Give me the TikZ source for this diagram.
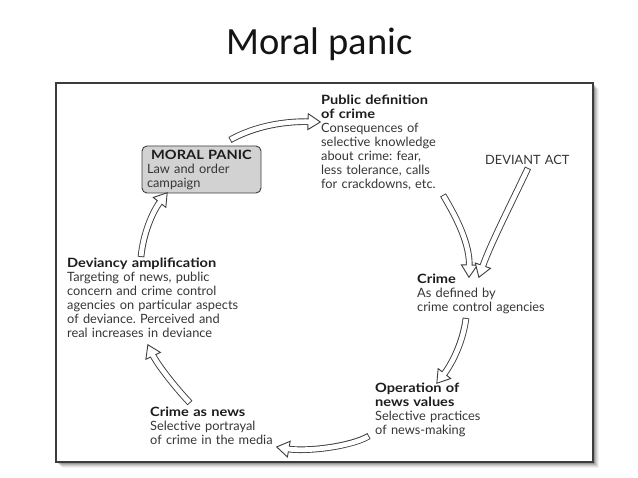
\documentclass[tikz,border=0pt]{standalone}
\usepackage{fontspec}
\setmainfont{Lato}
\newfontfamily\titlefont{Carlito}
\newfontfamily\hdfont{Lato}[FakeStretch=1.14]
\usetikzlibrary{decorations.markings}
\definecolor{txt}{HTML}{363636}
\definecolor{hdc}{HTML}{1C1C1C}
\definecolor{edge}{HTML}{3C3C3C}
\definecolor{boxfill}{HTML}{D2D2D2}
\frenchspacing
\newcommand{\hd}[1]{{\hdfont\bfseries\color{hdc}#1}}
\newcommand{\harrow}[1]{%
  \draw[shaftout] #1;
  \path[headmark] #1;
  \draw[shaftin] #1;}
\begin{document}
\begin{tikzpicture}[x=1pt,y=-1pt,
  lbl/.style={anchor=base west, align=left, text width=220pt, inner sep=0pt, text=txt,
    font=\fontsize{12.8}{14}\selectfont},
  moralbox/.style={rounded corners=5pt, draw=edge, line width=0.9pt, fill=boxfill,
    minimum width=119pt, minimum height=47pt, text width=109pt, inner xsep=5pt, inner ysep=3pt,
    align=left, text=txt, font=\fontsize{12.8}{14}\selectfont},
  shaftout/.style={line width=6.6pt, draw=edge, shorten >=10pt},
  shaftin/.style={line width=4.8pt, draw=white, shorten >=10pt, shorten <=0.9pt},
  headmark/.style={postaction={decorate}, decoration={markings,
    mark=at position 1 with {\filldraw[fill=white, draw=edge, line width=0.9pt, line join=miter]
      (0.3,0) -- (-12,-8) -- (-12,8) -- cycle;}}}
]
\useasboundingbox (0,0) rectangle (638,478);
% title
\node[anchor=base, inner sep=0pt, font=\titlefont\fontsize{38.5}{40}\selectfont, text=black!92] (title) at (319.5,55) {Moral panic};
% frame with shadow
\foreach \i/\o in {6/0.05,5/0.07,4/0.09,3/0.12,2/0.16}
  \fill[black, opacity=\o] (56+\i,83+\i) rectangle (593+\i,462+\i);
\draw[edge, line width=1.4pt, fill=white] (56,83) rectangle (593,462);
% nodes
\node[moralbox] (moral) at (201.5,169.5) {\makebox[\linewidth]{\hd{MORAL PANIC}}\\Law and order\\campaign};
\node[lbl] (pub) at (321,105) {\hd{Public definition}\\\hd{of crime}\\Consequences of\\selective knowledge\\about crime: fear,\\less tolerance, calls\\for crackdowns, etc.};
\node[lbl] (devact) at (485,164.5) {DEVIANT ACT};
\node[lbl] (crime) at (417,284) {\hd{Crime}\\As defined by\\crime control agencies};
\node[lbl] (oper) at (375,393) {\hd{Operation of}\\\hd{news values}\\Selective practices\\of news-making};
\node[lbl] (news) at (150,417) {\hd{Crime as news}\\Selective portrayal\\of crime in the media};
\node[lbl] (devamp) at (67,268) {\hd{Deviancy amplification}\\Targeting of news, public\\concern and crime control\\agencies on particular aspects\\of deviance. Perceived and\\real increases in deviance};
% arrow end points
\coordinate (m2p-s) at (230,140);   \coordinate (m2p-e) at (320,122);
\coordinate (p2c-s) at (443,195);   \coordinate (p2c-e) at (469,277);
\coordinate (d2c-s) at (528,168);   \coordinate (d2c-e) at (479,277);
\coordinate (c2o-s) at (466,318);   \coordinate (c2o-e) at (437,383);
\coordinate (o2n-s) at (369,436);   \coordinate (o2n-e) at (277,447);
\coordinate (n2d-s) at (190,403);   \coordinate (n2d-e) at (148,345);
\coordinate (d2m-s) at (141,257);   \coordinate (d2m-e) at (167,193);
% arrows
\harrow{(m2p-s) .. controls (255,126) and (285,121) .. (m2p-e)}
\harrow{(p2c-s) .. controls (458,220) and (470,245) .. (p2c-e)}
\harrow{(d2c-s) .. controls (512,202) and (490,245) .. (d2c-e)}
\harrow{(c2o-s) .. controls (463,342) and (452,364) .. (c2o-e)}
\harrow{(o2n-s) .. controls (350,447) and (305,452) .. (o2n-e)}
\harrow{(n2d-s) .. controls (174,386) and (157,364) .. (n2d-e)}
\harrow{(d2m-s) .. controls (143,235) and (152,212) .. (d2m-e)}
\end{tikzpicture}
\end{document}
